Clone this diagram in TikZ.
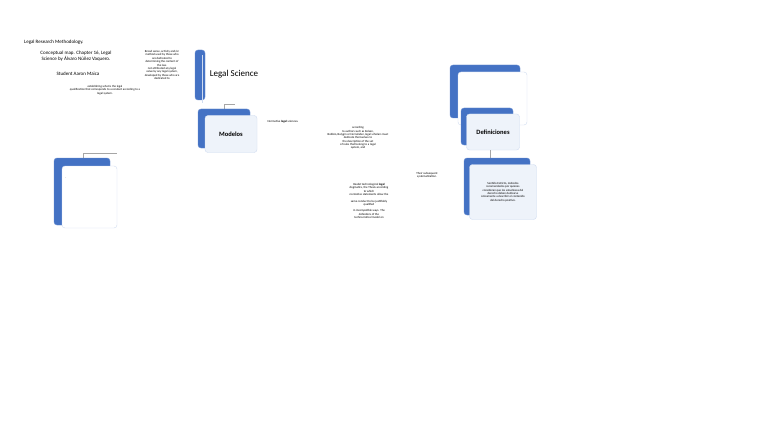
\documentclass[tikz,border=0pt]{standalone}
\usepackage{fontspec}
\setmainfont{Carlito}
\begin{document}
\begin{tikzpicture}[x=1pt,y=-1pt]
\definecolor{bl}{HTML}{4472C4}
\definecolor{pale}{HTML}{EEF3FA}
\tikzset{
 back/.style={fill=bl,draw=bl!80,rounded corners=3pt},
 front/.style={fill=white,draw=bl!25,rounded corners=3pt},
 tiny/.style={font=\fontsize{3}{3.4}\selectfont,align=center,inner sep=0},
 small/.style={font=\fontsize{5}{6}\selectfont,align=center,inner sep=0},
 conn/.style={draw=gray!70,line width=0.5pt}
}
\useasboundingbox (0,0) rectangle (768,433);
\fill[white] (0,0) rectangle (768,433);
% left texts
\node[small,anchor=west] (t1) at (24,42) {Legal Research Methodology.};
\node[small] (t2) at (76,56) {Conceptual map. Chapter 16, Legal\\Science by Álvaro Núñez Vaquero.};
\node[small] (t3) at (78,74) {Student Aaron Maica};
\node[tiny] (t4) at (105,90) {establishing what is the legal\\qualification that corresponds to a conduct according to a\\legal system.};
\node[tiny] (t5) at (162,65) {Broad sense, activity and/or\\method used by those who\\are dedicated to\\determining the content of\\the law.\\not attributed any legal\\value by any legal system,\\developed by those who are\\dedicated to};
% Legal Science
\draw[back] (195,50) rectangle (205,100);
\draw[draw=bl!25] (202,55) -- (202,103);
\node[font=\fontsize{9}{10}\selectfont,inner sep=0] (ls) at (234,74) {Legal Science};
% Modelos
\draw[conn] (224,110) |- (235,104);
\draw[back] (198,109) rectangle (250,148);
\node[front,fill=pale,minimum width=52pt,minimum height=37pt,font=\fontsize{6.5}{7}\selectfont\bfseries] (mod) at (231,134) {Modelos};
% left box
\draw[conn] (83,160) |- (117,153);
\draw[back] (54,158) rectangle (110,225);
\draw[front] (62,166) rectangle (117,228);
\node[tiny] (d1) at (66,178) {.};
% middle texts
\node[tiny] (n1) at (283,122) {Normative \textbf{legal} sciences.};
\node[tiny] (n2) at (358,138) {according\\to authors such as Kelsen,\\Bobbio, Bulygin or Hernández, legal scholars must\\dedicate themselves to\\the description of the set\\of rules that belong to a legal\\system, and};
\node[tiny] (n3) at (369,201) {Realist technological \textbf{legal}\\dogmatics, the Thesis according\\to which\\normative statements allow the\\[3pt]same conduct to be justifiably\\qualified\\[3pt]in incompatible ways. The\\defenders of the\\technocratical model on};
\node[tiny] (n4) at (427,175) {Their subsequent\\systematization.};
% Definiciones stack
\draw[back] (450,65) rectangle (520,118);
\draw[front] (458,72) rectangle (527,125);
\draw[back] (461,108) rectangle (513,145);
\node[front,fill=pale,minimum width=53pt,minimum height=36pt,font=\fontsize{6.5}{7}\selectfont\bfseries] (def) at (493,132) {Definiciones};
\draw[conn] (def.south) ++(-3,0) |- (497,158);
\draw[back] (464,158) rectangle (530,215);
\node[front,fill=pale,minimum width=67pt,minimum height=55pt,tiny] (se) at (503,192) {Sentido Estricto, métodos\\recomendados por quienes\\consideran que los estudiosos del\\derecho deben dedicarse\\únicamente a describir el contenido\\del derecho positivo.};
\end{tikzpicture}
\end{document}
